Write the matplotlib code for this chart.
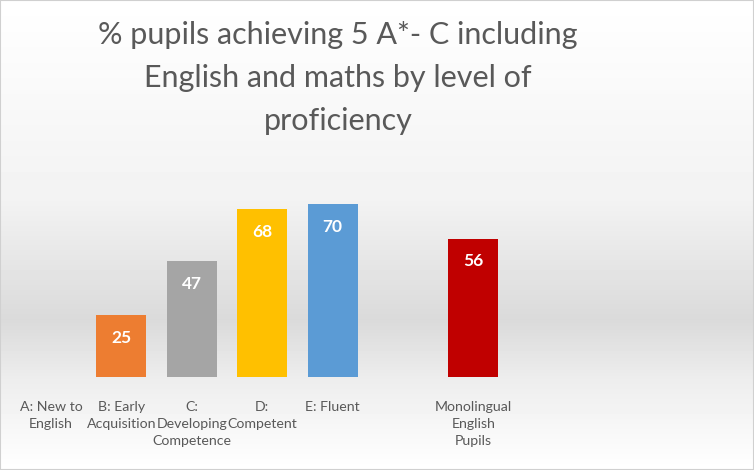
import matplotlib
matplotlib.use("Agg")
import matplotlib.pyplot as plt
import numpy as np

categories = ["A: New to\nEnglish", "B: Early\nAcquisition", "C:\nDeveloping\nCompetence",
              "D:\nCompetent", "E: Fluent", "", "Monolingual\nEnglish\nPupils"]
values = [None, 25, 47, 68, 70, None, 56]
colors = ["#ED7D31", "#ED7D31", "#A5A5A5", "#FFC000", "#5B9BD5", "#5B9BD5", "#C00000"]
title = "% pupils achieving 5 A*- C including\nEnglish and maths by level of\nproficiency"

FONT = "Lato"
TEXT_GRAY = "#595959"

W, H = 754, 470
fig = plt.figure(figsize=(W / 100, H / 100), dpi=100)

# background: white top, grey band just above the bar baseline, fading to white below
bg = fig.add_axes([0, 0, 1, 1])
ys = np.linspace(0, H, 470)  # pixels from top
shade = np.interp(ys, [0, 60, 200, 320, 380, 470], [1.0, 0.985, 0.95, 0.855, 0.93, 1.0])
grad = np.repeat(shade[:, None], 2, axis=1)
bg.imshow(grad, cmap="gray", vmin=0, vmax=1, aspect="auto", extent=[0, 1, 0, 1])
bg.set_xlim(0, 1)
bg.set_ylim(0, 1)
bg.axis("off")
fig.add_artist(plt.Rectangle((0, 0), 1, 1, transform=fig.transFigure, fill=False,
                             edgecolor="#D0D0D0", linewidth=1.5))

# plot area: category spacing ~70.4 px, first centre at x=51, baseline y=377
step = 70.4
left = 51 - step / 2
ax = fig.add_axes([left / W, (H - 377) / H, (W - left) / W, 173 / H])
ax.patch.set_alpha(0)
ncat = (W - left) / step
x = np.arange(len(categories))
heights = [v if v is not None else 0 for v in values]
bars = ax.bar(x, heights, width=0.71, color=colors, zorder=3)
for b, v in zip(bars, values):
    if v is None:
        b.set_visible(False)
        continue
    ax.text(b.get_x() + b.get_width() / 2, v - 6, f"{v}", ha="center", va="top",
            color="white", fontsize=12.5, fontweight="bold", family=FONT)

ax.set_xlim(-0.5, -0.5 + ncat)
ax.set_ylim(0, 70)
for s in ax.spines.values():
    s.set_visible(False)
ax.set_yticks([])
ax.set_xticks(x)
ax.set_xticklabels(categories, color=TEXT_GRAY, fontsize=10.2, family=FONT,
                   linespacing=1.5, va="top")
ax.tick_params(axis="x", length=0, pad=17)

fig.text(338 / W, 0.955, title, ha="center", va="top", fontsize=22, color=TEXT_GRAY,
         family=FONT, linespacing=1.65)

fig.savefig("out.png", dpi=100)
